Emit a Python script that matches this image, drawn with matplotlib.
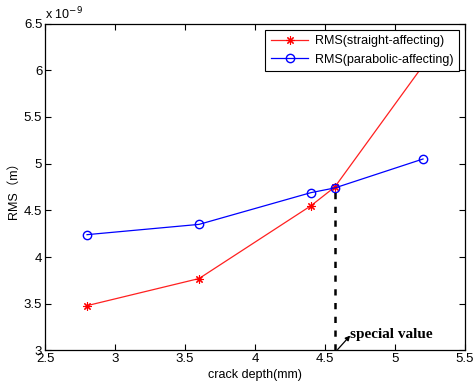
import matplotlib
matplotlib.use("Agg")
import matplotlib.pyplot as plt

plt.rcParams['font.family'] = ['Liberation Sans', 'Noto Sans CJK SC', 'DejaVu Sans']

depth = [2.8, 3.6, 4.4, 4.57, 5.2]
rms_straight = [3.48, 3.77, 4.55, 4.75, 6.05]
rms_parabolic = [4.24, 4.35, 4.69, 4.74, 5.05]
special_x = 4.57
special_y = 4.75
xticks = [2.5, 3, 3.5, 4, 4.5, 5, 5.5]
yticks = [3, 3.5, 4, 4.5, 5, 5.5, 6, 6.5]

fig = plt.figure(figsize=(4.74, 3.86), dpi=100)
ax = fig.add_axes([0.095, 0.092, 0.886, 0.847])

ax.plot(depth, rms_straight, color='#ff2020', lw=0.9, marker=(8, 2, 0), ms=6, mew=0.8,
        mec='red', mfc='red', label='RMS(straight-affecting)')
ax.plot(depth, rms_parabolic, color='blue', lw=0.9, marker='o', ms=6, mfc='none', mec='blue',
        label='RMS(parabolic-affecting)')
ax.plot([special_x, special_x], [3, special_y], color='black', lw=1.8, ls=(0, (2.5, 3)))

ax.annotate('', xy=(4.68, 3.16), xytext=(4.59, 3.01),
            arrowprops=dict(arrowstyle='-|>', color='black', lw=0.9, mutation_scale=7,
                            shrinkA=0, shrinkB=0))
ax.text(4.68, 3.17, 'special value', fontsize=11, fontweight='bold',
        family='Liberation Serif', ha='left', va='center')

ax.set_xlim(2.5, 5.5)
ax.set_ylim(3, 6.5)
ax.set_xticks(xticks)
ax.set_yticks(yticks)
ax.set_xticklabels([f'{t:g}' for t in xticks])
ax.set_yticklabels([f'{t:g}' for t in yticks])
ax.tick_params(direction='in', top=True, right=True, labelsize=9.5, length=4, width=0.8, pad=2)
for s in ax.spines.values():
    s.set_linewidth(0.9)

ax.set_xlabel('crack depth(mm)', fontsize=9, labelpad=3)
ax.set_ylabel('RMS（m）', fontsize=9, labelpad=3)
ax.text(0.0, 1.005, r'x 10$^{-9}$', transform=ax.transAxes, fontsize=9, ha='left', va='bottom')

leg = ax.legend(loc='upper right', fontsize=9, fancybox=False, edgecolor='black',
                framealpha=1, borderaxespad=0.5, handlelength=3, labelspacing=0.5,
                borderpad=0.45, handletextpad=0.5)
leg.get_frame().set_linewidth(0.8)
leg.set_zorder(5)

fig.savefig('out.png', dpi=100)
